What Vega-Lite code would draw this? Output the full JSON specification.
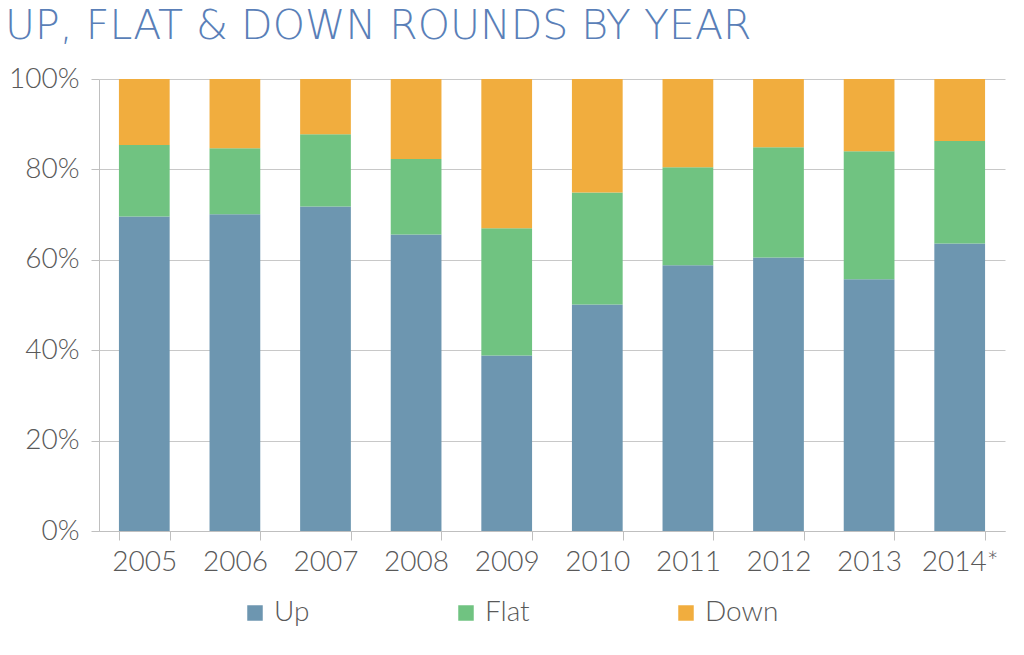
{
  "$schema": "https://vega.github.io/schema/vega-lite/v6.json",
  "width": 906,
  "height": 452,
  "autosize": {"type": "none"},
  "padding": {"left": 99, "top": 79, "right": 19, "bottom": 124},
  "background": "white",
  "title": {
    "text": "UP, FLAT & DOWN ROUNDS BY YEAR",
    "anchor": "start",
    "frame": "group",
    "dx": -94,
    "offset": 17,
    "font": "DejaVu Sans",
    "fontWeight": 200,
    "fontSize": 41,
    "color": "#5a7fb8"
  },
  "data": {
    "values": [
      {"year": "2005", "type": "Up", "order": 1, "value": 0.696},
      {"year": "2005", "type": "Flat", "order": 2, "value": 0.158},
      {"year": "2005", "type": "Down", "order": 3, "value": 0.146},
      {"year": "2006", "type": "Up", "order": 1, "value": 0.701},
      {"year": "2006", "type": "Flat", "order": 2, "value": 0.146},
      {"year": "2006", "type": "Down", "order": 3, "value": 0.153},
      {"year": "2007", "type": "Up", "order": 1, "value": 0.718},
      {"year": "2007", "type": "Flat", "order": 2, "value": 0.160},
      {"year": "2007", "type": "Down", "order": 3, "value": 0.122},
      {"year": "2008", "type": "Up", "order": 1, "value": 0.656},
      {"year": "2008", "type": "Flat", "order": 2, "value": 0.167},
      {"year": "2008", "type": "Down", "order": 3, "value": 0.177},
      {"year": "2009", "type": "Up", "order": 1, "value": 0.388},
      {"year": "2009", "type": "Flat", "order": 2, "value": 0.282},
      {"year": "2009", "type": "Down", "order": 3, "value": 0.330},
      {"year": "2010", "type": "Up", "order": 1, "value": 0.501},
      {"year": "2010", "type": "Flat", "order": 2, "value": 0.248},
      {"year": "2010", "type": "Down", "order": 3, "value": 0.251},
      {"year": "2011", "type": "Up", "order": 1, "value": 0.588},
      {"year": "2011", "type": "Flat", "order": 2, "value": 0.217},
      {"year": "2011", "type": "Down", "order": 3, "value": 0.195},
      {"year": "2012", "type": "Up", "order": 1, "value": 0.605},
      {"year": "2012", "type": "Flat", "order": 2, "value": 0.244},
      {"year": "2012", "type": "Down", "order": 3, "value": 0.151},
      {"year": "2013", "type": "Up", "order": 1, "value": 0.557},
      {"year": "2013", "type": "Flat", "order": 2, "value": 0.283},
      {"year": "2013", "type": "Down", "order": 3, "value": 0.160},
      {"year": "2014*", "type": "Up", "order": 1, "value": 0.636},
      {"year": "2014*", "type": "Flat", "order": 2, "value": 0.227},
      {"year": "2014*", "type": "Down", "order": 3, "value": 0.137}
    ]
  },
  "mark": {"type": "bar"},
  "encoding": {
    "x": {
      "field": "year",
      "type": "nominal",
      "sort": null,
      "scale": {"paddingInner": 0.44, "paddingOuter": 0.22},
      "axis": {
        "title": null,
        "labelAngle": 0,
        "tickBand": "extent",
        "tickSize": 9,
        "tickColor": "#bfbfbf",
        "domainColor": "#bfbfbf",
        "labelFont": "Lato",
        "labelFontWeight": 300,
        "labelFontSize": 28,
        "labelColor": "#595959",
        "labelPadding": 8
      }
    },
    "y": {
      "field": "value",
      "type": "quantitative",
      "stack": "zero",
      "scale": {"domain": [0, 1], "nice": false},
      "axis": {
        "title": null,
        "values": [0, 0.2, 0.4, 0.6, 0.8, 1],
        "format": ".0%",
        "tickSize": 8,
        "tickColor": "#bfbfbf",
        "domainColor": "#bfbfbf",
        "gridColor": "#c8c8c8",
        "labelFont": "Lato",
        "labelFontWeight": 300,
        "labelFontSize": 28,
        "labelColor": "#595959",
        "labelPadding": 12
      }
    },
    "color": {
      "field": "type",
      "type": "nominal",
      "scale": {"domain": ["Up", "Flat", "Down"], "range": ["#6d96b0", "#70c381", "#f1ad3e"]},
      "legend": {
        "title": null,
        "orient": "none",
        "direction": "horizontal",
        "legendX": 142,
        "legendY": 520,
        "symbolType": "square",
        "symbolSize": 240,
        "symbolStrokeWidth": 0,
        "columnPadding": 142,
        "labelFont": "Lato",
        "labelFontWeight": 300,
        "labelFontSize": 28,
        "labelColor": "#595959",
        "labelOffset": 5
      }
    },
    "order": {"field": "order", "type": "quantitative"}
  },
  "config": {"view": {"stroke": null}}
}
